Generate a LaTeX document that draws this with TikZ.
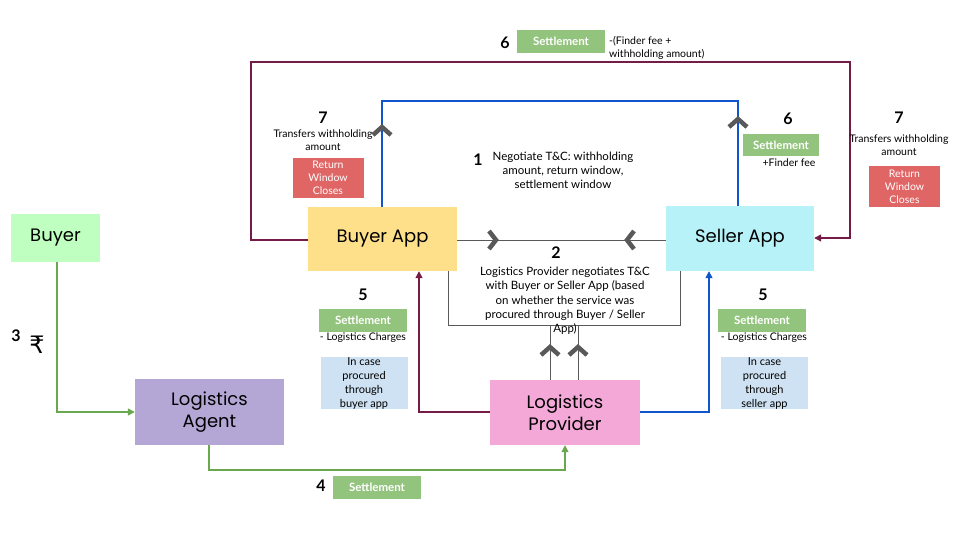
\documentclass[tikz,border=0pt]{standalone}
\usepackage{fontspec}
\setmainfont{Lato}
\newfontfamily\pop{Poppins}
\newfontfamily\rup{DejaVu Sans}
\usetikzlibrary{arrows.meta}
\definecolor{maroon}{HTML}{741B47}
\definecolor{bl}{HTML}{1155CC}
\definecolor{gr}{HTML}{6AA84F}
\definecolor{setg}{HTML}{93C47D}
\definecolor{redb}{HTML}{E06666}
\definecolor{lb}{HTML}{CFE2F3}
\definecolor{chev}{HTML}{595959}
\tikzset{
 box/.style={inner sep=0pt,font=\pop\fontsize{18}{22}\selectfont,align=center},
 sett/.style={fill=setg,minimum width=88pt,minimum height=23pt,inner sep=0pt,text=white,font=\bfseries\fontsize{11.5}{13}\selectfont},
 small/.style={font=\fontsize{10.5}{13}\selectfont,align=center,inner sep=0pt},
 num/.style={font=\bfseries\fontsize{16}{18}\selectfont,inner sep=0pt},
 redbox/.style={fill=redb,text=white,minimum width=71pt,minimum height=40pt,inner sep=0pt,font=\fontsize{10.5}{13}\selectfont,align=center},
 lbox/.style={fill=lb,minimum width=87pt,minimum height=52pt,inner sep=0pt,font=\fontsize{11}{14}\selectfont,align=center},
 ch/.style={chev,line width=4.5pt},
 arr/.style={-{Triangle[length=7pt,width=7pt]},line width=1.3pt}
}
\begin{document}
\begin{tikzpicture}[x=1pt,y=-1pt]
\useasboundingbox (0,0) rectangle (960,540);
\node[box,fill=green!25!white,minimum width=89pt,minimum height=48pt] (buyer) at (55.5,238) {Buyer};
\node[box,fill={rgb,255:red,255;green,224;blue,138},minimum width=149pt,minimum height=64pt] (bapp) at (382.5,239) {Buyer App};
\node[box,fill={rgb,255:red,182;green,242;blue,247},minimum width=148pt,minimum height=65pt] (sapp) at (740,238.5) {Seller App};
\node[box,fill={rgb,255:red,180;green,167;blue,214},minimum width=149pt,minimum height=66pt] (la) at (209.5,412) {Logistics\\Agent};
\node[box,fill={rgb,255:red,244;green,168;blue,216},minimum width=150pt,minimum height=65pt] (lp) at (565,412.5) {Logistics\\Provider};
\coordinate (p1) at (251,240); \coordinate (p2) at (251,62); \coordinate (p3) at (850,62); \coordinate (p4) at (850,238);
\draw[maroon,arr] (bapp.west|-p1) -- (p1) -- (p2) -- (p3) -- (p4) -- (sapp.east|-p4);
\coordinate (b1) at (382,101); \coordinate (b2) at (738,101);
\draw[bl,line width=1.3pt] (bapp.north-|b1) -- (b1) -- (b2) -- (sapp.north-|b2);
\draw[ch] (373,135)--(382,127)--(391,135);
\draw[ch] (729,127)--(738,119)--(747,127);
\draw[chev,line width=0.8pt] (bapp.east|-0,240) -- (sapp.west|-0,240);
\draw[ch] (489,231)--(496,240)--(489,249);
\draw[ch] (634,231)--(627,240)--(634,249);
\coordinate (g1) at (448,325); \coordinate (g2) at (680,325);
\draw[chev,line width=0.8pt] (bapp.south-|g1) -- (g1) -- (g2) -- (sapp.south-|g2);
\coordinate (v1) at (550,325); \coordinate (v2) at (578,325);
\draw[chev,line width=0.8pt] (lp.north-|v1) -- (v1) (lp.north-|v2) -- (v2);
\draw[ch] (541,355)--(550,347)--(559,355);
\draw[ch] (569,355)--(578,347)--(587,355);
\coordinate (m1) at (419,412);
\draw[maroon,arr] (lp.west|-m1) -- (m1) -- (bapp.south-|m1);
\coordinate (n1) at (709,412);
\draw[bl,arr] (lp.east|-n1) -- (n1) -- (sapp.south-|n1);
\coordinate (q1) at (57,412);
\draw[gr,arr] (buyer.south-|q1) -- (q1) -- (la.west|-q1);
\coordinate (r1) at (209,470); \coordinate (r2) at (565,470);
\draw[gr,arr] (la.south-|r1) -- (r1) -- (r2) -- (lp.south-|r2);
\node[num] (n6a) at (505,43) {6};
\node[sett] (s6a) at (561,41.5) {Settlement};
\node[small,align=left,anchor=west] (t6a) at (609,48) {-(Finder fee +\\withholding amount)};
\node[num] (n6b) at (788,119) {6};
\node[sett,minimum width=76pt,minimum height=22pt] (s6b) at (781,145) {Settlement};
\node[small] (t6b) at (789,163) {+Finder fee};
\node[num] (n7a) at (323,118) {7};
\node[small] (t7a) at (323,140) {Transfers withholding\\amount};
\node[redbox] (r7a) at (328,178) {Return\\Window\\Closes};
\node[num] (n7b) at (899,118) {7};
\node[small] (t7b) at (899,145) {Transfers withholding\\amount};
\node[redbox] (r7b) at (904.5,186.5) {Return\\Window\\Closes};
\node[num] (n1) at (478,160) {1};
\node[small,font=\fontsize{11.5}{14}\selectfont] (t1) at (563,170) {Negotiate T\&C: withholding\\amount, return window,\\settlement window};
\node[num] (n2) at (556,253) {2};
\node[small,font=\fontsize{11.5}{14.3}\selectfont] (t2) at (565,301) {Logistics Provider negotiates T\&C\\with Buyer or Seller App (based\\on whether the service was\\procured through Buyer / Seller\\App)};
\node[num] (n5a) at (363,295) {5};
\node[sett] (s5a) at (363,320) {Settlement};
\node[small] (t5a) at (363,338) {- Logistics Charges};
\node[lbox] (l5a) at (364,383) {In case\\procured\\through\\buyer app};
\node[num] (n5b) at (763,295) {5};
\node[sett] (s5b) at (762,320) {Settlement};
\node[small] (t5b) at (764,338) {- Logistics Charges};
\node[lbox] (l5b) at (764.5,383) {In case\\procured\\through\\seller app};
\node[num] (n4) at (321,486) {4};
\node[sett] (s4) at (377,487.5) {Settlement};
\node[num] (n3) at (16,336) {3};
\node[inner sep=0pt,font=\rup\fontsize{24}{26}\selectfont] (rs) at (37,345) {₹};
\end{tikzpicture}
\end{document}
